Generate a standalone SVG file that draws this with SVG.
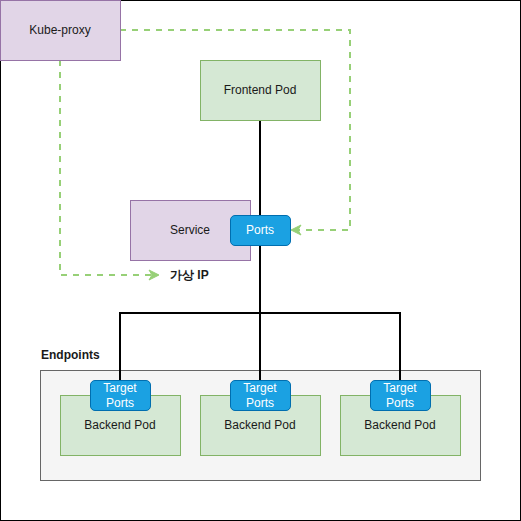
<svg xmlns="http://www.w3.org/2000/svg" width="521" height="521" viewBox="0 0 521 521">
<defs>
<style>
.t{font-family:"Liberation Sans",Arial,sans-serif;font-size:12px;fill:#1a1a1a;text-anchor:middle;dominant-baseline:central}
.w{fill:#ffffff}
.b{font-weight:bold;text-anchor:start}
.pur{fill:#e1d5e7;stroke:#9673a6}
.grn{fill:#d5e8d4;stroke:#82b366}
.port{fill:#1ba1e2;stroke:#006eaf}
.ln{fill:none;stroke:#000;stroke-width:2}
.dash{fill:none;stroke:#97d077;stroke-width:2;stroke-dasharray:6 6}
</style>
<marker id="ar" viewBox="0 0 12 12" refX="10" refY="6" markerWidth="12" markerHeight="12" markerUnits="userSpaceOnUse" orient="auto">
<path d="M1,1 L11,6 L1,11 L4,6 Z" fill="#97d077" stroke="#97d077"/>
</marker>
</defs>
<rect x="0.5" y="0.5" width="520" height="520" fill="#fff" stroke="#000"/>
<g id="endpoints">
<rect x="40.5" y="370.5" width="440" height="110" fill="#f5f5f5" stroke="#666"/>
<text class="t b" x="41" y="355">Endpoints</text>
</g>
<g id="connectors">
<path class="ln" d="M260,120 V215 M260,245 V313 M120,313 H400 M120,312 V380 M260,313 V380 M400,312 V380"/>
<path class="dash" d="M120,30 H350 V230 H292" marker-end="url(#ar)"/>
<path class="dash" d="M60,60 V275 H158" marker-end="url(#ar)"/>
</g>
<g id="kube-proxy"><rect class="pur" x="0.5" y="0.5" width="120" height="60"/><text class="t" x="60" y="30">Kube-proxy</text></g>
<g id="frontend"><rect class="grn" x="200.5" y="60.5" width="120" height="60"/><text class="t" x="260" y="90">Frontend Pod</text></g>
<g id="service"><rect class="pur" x="130.5" y="200.5" width="120" height="60"/><text class="t" x="190" y="230">Service</text></g>
<g id="ports"><rect class="port" x="230.5" y="215.5" width="60" height="30" rx="4.5"/><text class="t w" x="260" y="230">Ports</text></g>
<g id="vip"><text class="t b" x="170" y="275">가상 IP</text></g>
<g id="backend1"><rect class="grn" x="60.5" y="395.5" width="120" height="60"/><text class="t" x="120" y="425">Backend Pod</text></g>
<g id="backend2"><rect class="grn" x="200.5" y="395.5" width="120" height="60"/><text class="t" x="260" y="425">Backend Pod</text></g>
<g id="backend3"><rect class="grn" x="340.5" y="395.5" width="120" height="60"/><text class="t" x="400" y="425">Backend Pod</text></g>
<g id="tp1"><rect class="port" x="90.5" y="380.5" width="60" height="30" rx="4.5"/><text class="t w" x="120" y="388">Target</text><text class="t w" x="120" y="403">Ports</text></g>
<g id="tp2"><rect class="port" x="230.5" y="380.5" width="60" height="30" rx="4.5"/><text class="t w" x="260" y="388">Target</text><text class="t w" x="260" y="403">Ports</text></g>
<g id="tp3"><rect class="port" x="370.5" y="380.5" width="60" height="30" rx="4.5"/><text class="t w" x="400" y="388">Target</text><text class="t w" x="400" y="403">Ports</text></g>
</svg>
